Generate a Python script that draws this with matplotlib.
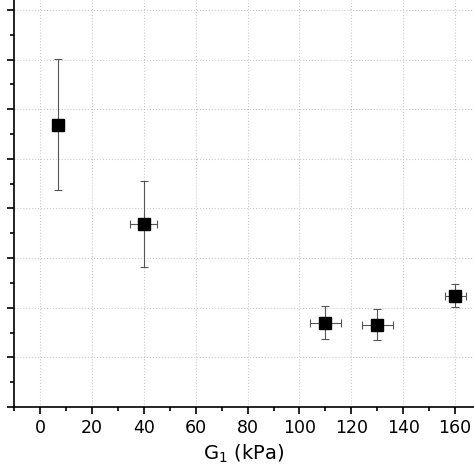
import matplotlib
matplotlib.use("Agg")
import matplotlib.pyplot as plt
from matplotlib.ticker import MultipleLocator, NullFormatter

g1 = [7, 40, 110, 130, 160]
yval = [5.69, 3.68, 1.69, 1.65, 2.23]
y_lo = [4.38, 2.82, 1.37, 1.35, 2.01]
y_hi = [7.02, 4.55, 2.03, 1.97, 2.47]
x_err = [0, 5.2, 6, 6, 4]

fig = plt.figure(figsize=(4.74, 4.74), dpi=100)
ax = fig.add_axes([14/474, 67/474, 460/474, 407/474])
yerr = [[v - l for v, l in zip(yval, y_lo)], [h - v for v, h in zip(yval, y_hi)]]
ax.errorbar(g1, yval, yerr=yerr, xerr=x_err, fmt='s', color='black', ms=8,
            ecolor='#555555', elinewidth=0.8, capsize=3, capthick=0.8)
ax.set_xlim(-10.0, -10.0 + 460 / 51.9 * 20)
ax.set_ylim(0, 8.2)
ax.xaxis.set_major_locator(MultipleLocator(20))
ax.xaxis.set_minor_locator(MultipleLocator(10))
ax.yaxis.set_major_locator(MultipleLocator(1))
ax.yaxis.set_minor_locator(MultipleLocator(0.5))
ax.yaxis.set_major_formatter(NullFormatter())
ax.tick_params(which='both', direction='out', width=1.2)
ax.tick_params(which='major', length=5, labelsize=12.5)
ax.tick_params(which='minor', length=3)
ax.grid(True, which='major', linestyle=':', color='#cccccc', linewidth=0.8)
for s in ['top', 'right']:
    ax.spines[s].set_visible(False)
for s in ['left', 'bottom']:
    ax.spines[s].set_linewidth(1.2)
ax.set_xlabel('G$_1$ (kPa)', fontsize=14)
fig.savefig('out.png', dpi=100)
